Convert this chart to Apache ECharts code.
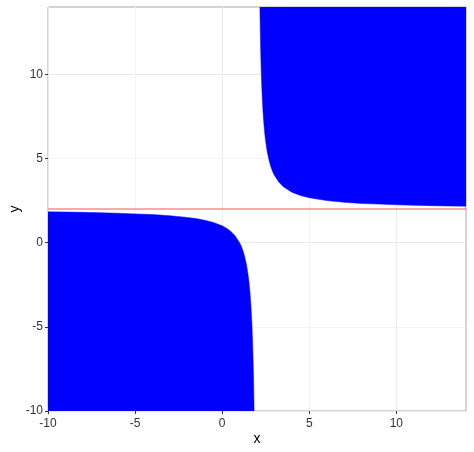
<!DOCTYPE html>
<html>
<head>
<meta charset="utf-8">
<script src="https://cdn.jsdelivr.net/npm/echarts@6/dist/echarts.min.js"></script>
<style>html,body{margin:0;padding:0;background:#fff}#c{width:474px;height:452px}</style>
</head>
<body>
<div id="c"></div>
<script>
// Lower-left filled region: curve points (x, y), filled down to y = -10
const lowerX = [-10, -9, -8, -7, -6, -5, -4, -3, -2, -1.5, -1, -0.5, 0, 0.25, 0.5, 0.75, 1, 1.1, 1.2, 1.3, 1.4, 1.5, 1.55, 1.6, 1.65, 1.7, 1.72, 1.75, 1.78, 1.8, 1.82, 1.833];
const lowerY = [1.83, 1.82, 1.8, 1.78, 1.75, 1.71, 1.67, 1.6, 1.5, 1.43, 1.33, 1.2, 1.0, 0.86, 0.67, 0.4, 0, -0.22, -0.5, -0.86, -1.33, -2, -2.44, -3, -3.71, -4.67, -5.14, -6, -7.09, -8, -9.11, -10];
// Upper-right filled region: curve points (x, y), filled up to y = 14
const upperX = [2.167, 2.18, 2.2, 2.22, 2.25, 2.28, 2.3, 2.35, 2.4, 2.45, 2.5, 2.6, 2.7, 2.8, 2.9, 3, 3.25, 3.5, 4, 4.5, 5, 6, 7, 8, 9, 10, 11, 12, 13, 14];
const upperY = [14, 13.11, 12, 11.09, 10, 9.14, 8.67, 7.71, 7, 6.44, 6, 5.33, 4.86, 4.5, 4.22, 4, 3.6, 3.33, 3, 2.8, 2.67, 2.5, 2.4, 2.33, 2.29, 2.25, 2.22, 2.2, 2.18, 2.17];
// Horizontal reference line
const hlineY = 2;
// Axis ticks
const xTicks = [-10, -5, 0, 5, 10];
const yTicks = [-10, -5, 0, 5, 10];
const xRange = [-10, 14];
const yRange = [-10, 14];

const zip = (a, b) => a.map((v, i) => [v, b[i]]);
const font = '"Liberation Sans", Arial, sans-serif';

function axis(name, range, ticks, gap, rot, margin) {
  return {
    type: 'value', min: range[0], max: range[1], interval: 2.5,
    name: name, nameLocation: 'middle', nameGap: gap, nameRotate: rot, nameMoveOverlap: false,
    nameTextStyle: { fontFamily: font, fontSize: 14, color: '#000' },
    axisLine: { show: false, onZero: false },
    axisTick: { show: true, length: 3, customValues: ticks, lineStyle: { color: '#333', width: 1 } },
    axisLabel: { customValues: ticks, margin: margin, fontFamily: font, fontSize: 12, color: '#333' },
    splitLine: { show: true, lineStyle: { color: ['#ebebeb', '#f3f3f3'], width: 1 } }
  };
}

const chart = echarts.init(document.getElementById('c'), null, { renderer: 'canvas' });
chart.setOption({
  animation: false,
  backgroundColor: '#fff',
  grid: { left: 48, right: 8, top: 7, bottom: 41, containLabel: false, outerBoundsMode: 'none',
          show: true, borderColor: '#aaaaaa', borderWidth: 1, backgroundColor: 'transparent' },
  xAxis: axis('x', xRange, xTicks, 21, 0, 7),
  yAxis: axis('y', yRange, yTicks, 26, 90, 5),
  series: [
    {
      type: 'line', data: zip(lowerX, lowerY), showSymbol: false, smooth: false,
      color: '#0000ff', itemStyle: { color: '#0000ff' },
      lineStyle: { color: '#0000ff', width: 0.5 },
      areaStyle: { color: '#0000ff', opacity: 1, origin: 'start' }, z: 2
    },
    {
      type: 'line', data: zip(upperX, upperY), showSymbol: false, smooth: false,
      color: '#0000ff', itemStyle: { color: '#0000ff' },
      lineStyle: { color: '#0000ff', width: 0.5 },
      areaStyle: { color: '#0000ff', opacity: 1, origin: 'end' }, z: 2
    },
    {
      type: 'line', data: [[xRange[0], hlineY], [xRange[1], hlineY]], showSymbol: false,
      color: '#ff5050', itemStyle: { color: '#ff5050' },
      lineStyle: { color: '#ff5050', width: 1 }, z: 3
    }
  ]
});
</script>
</body>
</html>
